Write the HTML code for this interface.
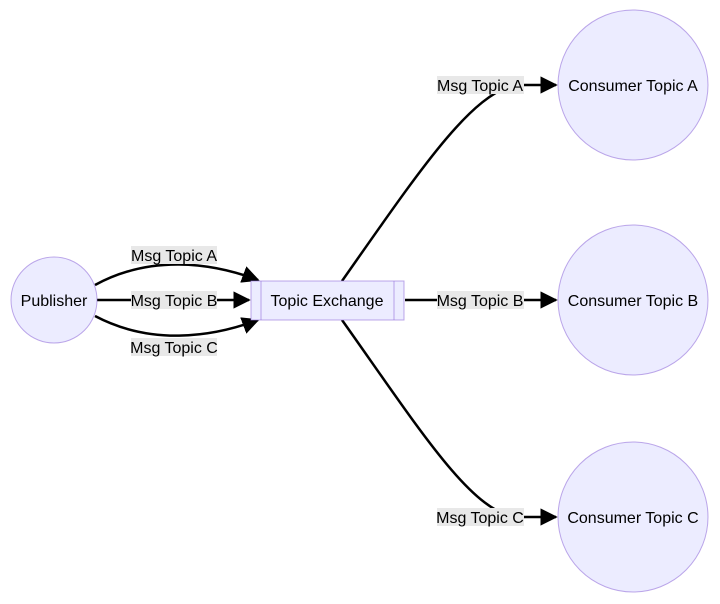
<!DOCTYPE html>
<html><head><style>body{margin:0;background:#fff;}svg{display:block}</style></head><body>
<svg width="720" height="604" xmlns="http://www.w3.org/2000/svg" font-family="Liberation Sans, Arial, sans-serif">
<defs><marker id="a" viewBox="0 0 10 10" refX="9" refY="5" markerWidth="7" markerHeight="7" orient="auto"><path d="M0,0L10,5L0,10z" fill="#000"/></marker></defs>
<g fill="none" stroke="#000" stroke-width="2.5">
<path d="M95,285 C150,255 210,262 258,280" marker-end="url(#a)"/>
<path d="M97,300 L249,300" marker-end="url(#a)"/>
<path d="M95,316 C150,345 210,338 258,320" marker-end="url(#a)"/>
<path d="M342,281 C420,170 470,95 515,85 L556,85" marker-end="url(#a)"/>
<path d="M405,300 L556,300" marker-end="url(#a)"/>
<path d="M342,320 C420,430 470,510 515,517 L556,517" marker-end="url(#a)"/>
</g>
<circle cx="54" cy="300" r="43" fill="#ececff" stroke="#9370db" stroke-opacity="0.6"/>
<text x="54" y="306" text-anchor="middle" font-size="16">Publisher</text>
<rect x="251" y="281" width="153" height="39" fill="#ececff" stroke="#9370db" stroke-opacity="0.6"/>
<line x1="261" y1="281" x2="261" y2="320" stroke="#9370db" stroke-opacity="0.6"/>
<line x1="394" y1="281" x2="394" y2="320" stroke="#9370db" stroke-opacity="0.6"/>
<text x="327" y="306" text-anchor="middle" font-size="16">Topic Exchange</text>
<g fill="#ececff" stroke="#9370db" stroke-opacity="0.6">
<circle cx="633" cy="85" r="75"/><circle cx="633" cy="300" r="75"/><circle cx="633" cy="517" r="75"/></g>
<g font-size="16" text-anchor="middle">
<text x="633" y="91">Consumer Topic A</text><text x="633" y="306">Consumer Topic B</text><text x="633" y="523">Consumer Topic C</text></g>
<g fill="#e8e8e8"><rect x="131" y="246" width="86" height="18"/><rect x="131" y="291" width="86" height="18"/><rect x="131" y="338" width="86" height="18"/>
<rect x="437" y="76" width="87" height="18"/><rect x="437" y="291" width="87" height="18"/><rect x="437" y="508" width="87" height="18"/></g>
<g font-size="16" text-anchor="middle">
<text x="174" y="261">Msg Topic A</text><text x="174" y="306">Msg Topic B</text><text x="174" y="353">Msg Topic C</text>
<text x="480" y="91">Msg Topic A</text><text x="480" y="306">Msg Topic B</text><text x="480" y="523">Msg Topic C</text></g>
</svg>
</body></html>
